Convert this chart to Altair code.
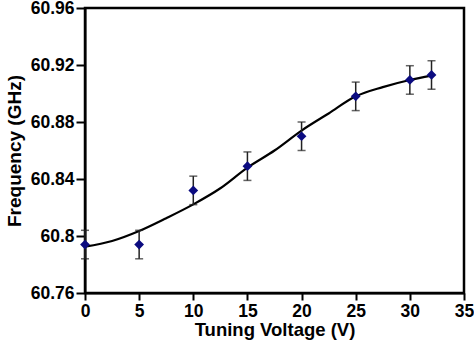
import altair as alt
import pandas as pd

# measured points
voltage = [0, 5, 10, 15, 20, 25, 30, 32]
freq = [60.794, 60.794, 60.832, 60.849, 60.870, 60.898, 60.9095, 60.913]
err = [0.010, 0.010, 0.010, 0.010, 0.010, 0.010, 0.010, 0.010]

# fitted curve
fit_v = [0, 2.5, 5, 7.5, 10, 12.5, 15, 17.5, 20, 22.5, 25, 27.5, 30, 32]
fit_f = [60.7925, 60.7965, 60.8035, 60.8125, 60.8222, 60.8335, 60.848,
         60.860, 60.874, 60.886, 60.898, 60.9045, 60.9095, 60.9125]

# plot box extremes
box_x = [0, 35]
box_y = [60.76, 60.96]

pts = pd.DataFrame({"v": voltage, "f": freq,
                    "lo": [a - b for a, b in zip(freq, err)],
                    "hi": [a + b for a, b in zip(freq, err)]})
fit = pd.DataFrame({"v": fit_v, "f": fit_f})
box = pd.DataFrame({"x1": [box_x[0]], "x2": [box_x[1]], "y1": [box_y[0]], "y2": [box_y[1]]})

FONT = "Liberation Sans"
W, H = 379, 285
xscale = alt.Scale(domain=[0, 35], nice=False, zero=False)
yscale = alt.Scale(domain=[60.76, 60.96], nice=False, zero=False)

xaxis = alt.Axis(values=[0, 5, 10, 15, 20, 25, 30, 35], title="Tuning Voltage (V)",
                 grid=False, domainColor="black", domainWidth=2, tickColor="black",
                 tickWidth=2, tickSize=7, labelFont=FONT, labelFontSize=17.5,
                 labelFontWeight="bold", labelColor="black", titleFont=FONT,
                 titleFontSize=18.5, titleFontWeight="bold", titleColor="black",
                 labelPadding=2, titlePadding=1, labelFlush=False)
yaxis = alt.Axis(values=[60.76, 60.8, 60.84, 60.88, 60.92, 60.96], title="Frequency (GHz)",
                 grid=False, domainColor="black", domainWidth=2, tickColor="black",
                 tickWidth=2, tickSize=9, labelFont=FONT, labelFontSize=17.5,
                 labelFontWeight="bold", labelColor="black", titleFont=FONT,
                 titleFontSize=19, titleFontWeight="bold", titleColor="black",
                 labelPadding=2, titlePadding=6, labelFlush=False,
                 labelExpr="datum.value == 60.8 ? '60.8' : format(datum.value, '.2f')")

frame = alt.Chart(box).mark_rect(fillOpacity=0, stroke="black", strokeWidth=2.5,
                                 strokeOpacity=1).encode(
    x=alt.X("x1:Q", scale=xscale, axis=xaxis),
    x2="x2:Q",
    y=alt.Y("y1:Q", scale=yscale, axis=yaxis),
    y2="y2:Q",
)

line = alt.Chart(fit).mark_line(color="black", strokeWidth=2.2, interpolate="monotone").encode(
    x=alt.X("v:Q", scale=xscale),
    y=alt.Y("f:Q", scale=yscale),
)

bars = alt.Chart(pts).mark_rule(color="#222222", strokeWidth=1.5).encode(
    x=alt.X("v:Q", scale=xscale),
    y=alt.Y("lo:Q", scale=yscale),
    y2="hi:Q",
)
cap_lo = alt.Chart(pts).mark_tick(color="#222222", orient="horizontal", size=8, thickness=1.5).encode(
    x=alt.X("v:Q", scale=xscale), y=alt.Y("lo:Q", scale=yscale))
cap_hi = alt.Chart(pts).mark_tick(color="#222222", orient="horizontal", size=8, thickness=1.5).encode(
    x=alt.X("v:Q", scale=xscale), y=alt.Y("hi:Q", scale=yscale))

points = alt.Chart(pts).mark_point(shape="diamond", filled=True, color="#0b0b80",
                                   size=95, opacity=1).encode(
    x=alt.X("v:Q", scale=xscale), y=alt.Y("f:Q", scale=yscale))

chart = alt.layer(frame, line, bars, cap_lo, cap_hi, points).properties(
    width=W, height=H,
    background="white",
    autosize=alt.AutoSizeParams(type="none"),
    padding={"left": 85, "top": 8, "right": 10, "bottom": 51},
).configure_view(stroke="black", strokeWidth=2)

chart.save("out.html", embed_options={"renderer": "svg", "actions": False})
